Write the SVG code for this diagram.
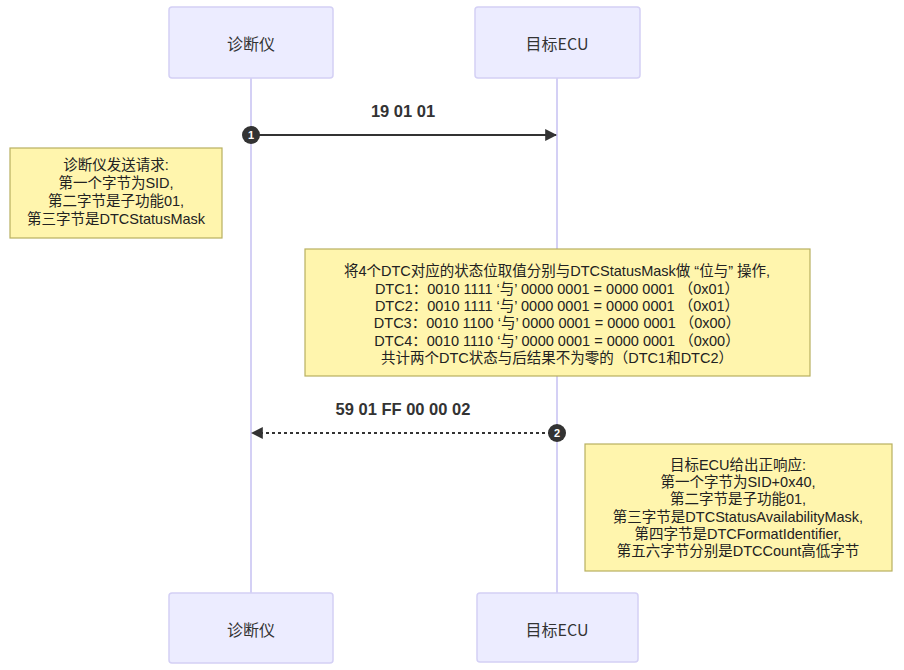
<svg xmlns="http://www.w3.org/2000/svg" width="904" height="670" viewBox="0 0 904 670">
<style>
.actor{fill:#ECECFF;stroke:#D4D0F5;stroke-width:1.5}
.atext{font-family:"Noto Sans CJK SC","Liberation Sans",sans-serif;font-size:16px;fill:#333;text-anchor:middle;dominant-baseline:central}
.life{stroke:#D4D0F5;stroke-width:2}
.note{fill:#FFF5AD;stroke:#B8B060;stroke-width:1.2}
.ntext{font-family:"Liberation Sans","Noto Sans CJK SC",sans-serif;font-size:14.5px;fill:#222;text-anchor:middle}
.msg{stroke:#333;stroke-width:2;fill:none}
.mlabel{font-family:"Liberation Sans","Noto Sans CJK SC",sans-serif;font-size:16.5px;font-weight:bold;fill:#333;text-anchor:middle}
.seq{fill:#333}
.seqt{font-family:"Liberation Sans",sans-serif;font-size:11px;font-weight:bold;fill:#fff;text-anchor:middle;dominant-baseline:central}
</style>
<defs>
<marker id="arrow" viewBox="0 0 10 10" refX="9" refY="5" markerWidth="6" markerHeight="6" orient="auto-start-reverse">
<path d="M0,0 L10,5 L0,10 z" fill="#333"/>
</marker>
</defs>
<g id="lifelines">
<line class="life" x1="251" y1="78" x2="251" y2="593"/>
<line class="life" x1="557" y1="78" x2="557" y2="593"/>
</g>
<g id="actor-diag-top"><rect class="actor" x="169" y="7" width="164" height="71" rx="3"/><text class="atext" x="251" y="43">诊断仪</text></g>
<g id="actor-ecu-top"><rect class="actor" x="475" y="7" width="165" height="71" rx="3"/><text class="atext" x="557" y="43">目标ECU</text></g>
<g id="actor-diag-bottom"><rect class="actor" x="169" y="593" width="164" height="70" rx="3"/><text class="atext" x="251" y="629">诊断仪</text></g>
<g id="actor-ecu-bottom"><rect class="actor" x="477" y="593" width="161" height="69" rx="3"/><text class="atext" x="557" y="629">目标ECU</text></g>
<g id="note1"><rect class="note" x="10" y="148" width="212" height="90"/>
<text class="ntext"><tspan x="116" y="170">诊断仪发送请求:</tspan><tspan x="116" y="188">第一个字节为SID,</tspan><tspan x="116" y="206">第二字节是子功能01,</tspan><tspan x="116" y="224">第三字节是DTCStatusMask</tspan></text>
</g>
<g id="note2"><rect class="note" x="305" y="249" width="505" height="127"/>
<text class="ntext"><tspan x="557" y="276">将4个DTC对应的状态位取值分别与DTCStatusMask做 “位与” 操作,</tspan><tspan x="557" y="294">DTC1：0010 1111 ‘与’ 0000 0001 = 0000 0001 （0x01）</tspan><tspan x="557" y="311">DTC2：0010 1111 ‘与’ 0000 0001 = 0000 0001 （0x01）</tspan><tspan x="557" y="328">DTC3：0010 1100 ‘与’ 0000 0001 = 0000 0001 （0x00）</tspan><tspan x="557" y="346">DTC4：0010 1110 ‘与’ 0000 0001 = 0000 0001 （0x00）</tspan><tspan x="557" y="363">共计两个DTC状态与后结果不为零的（DTC1和DTC2）</tspan></text>
</g>
<g id="note3"><rect class="note" x="585" y="444" width="307" height="127"/>
<text class="ntext"><tspan x="738" y="470">目标ECU给出正响应:</tspan><tspan x="738" y="487">第一个字节为SID+0x40,</tspan><tspan x="738" y="504">第二字节是子功能01,</tspan><tspan x="738" y="522">第三字节是DTCStatusAvailabilityMask,</tspan><tspan x="738" y="539">第四字节是DTCFormatIdentifier,</tspan><tspan x="738" y="556">第五六字节分别是DTCCount高低字节</tspan></text>
</g>
<g id="connectors">
<line class="msg" x1="251" y1="135" x2="556" y2="135" marker-end="url(#arrow)"/>
<text class="mlabel" x="403" y="117">19 01 01</text>
<circle class="seq" cx="251" cy="135" r="9"/><text class="seqt" x="251" y="135">1</text>
<line class="msg" x1="557" y1="433" x2="252" y2="433" stroke-dasharray="3,3" marker-end="url(#arrow)"/>
<text class="mlabel" x="403" y="415">59 01 FF 00 00 02</text>
<circle class="seq" cx="557" cy="433" r="9"/><text class="seqt" x="557" y="433">2</text>
</g>
</svg>
